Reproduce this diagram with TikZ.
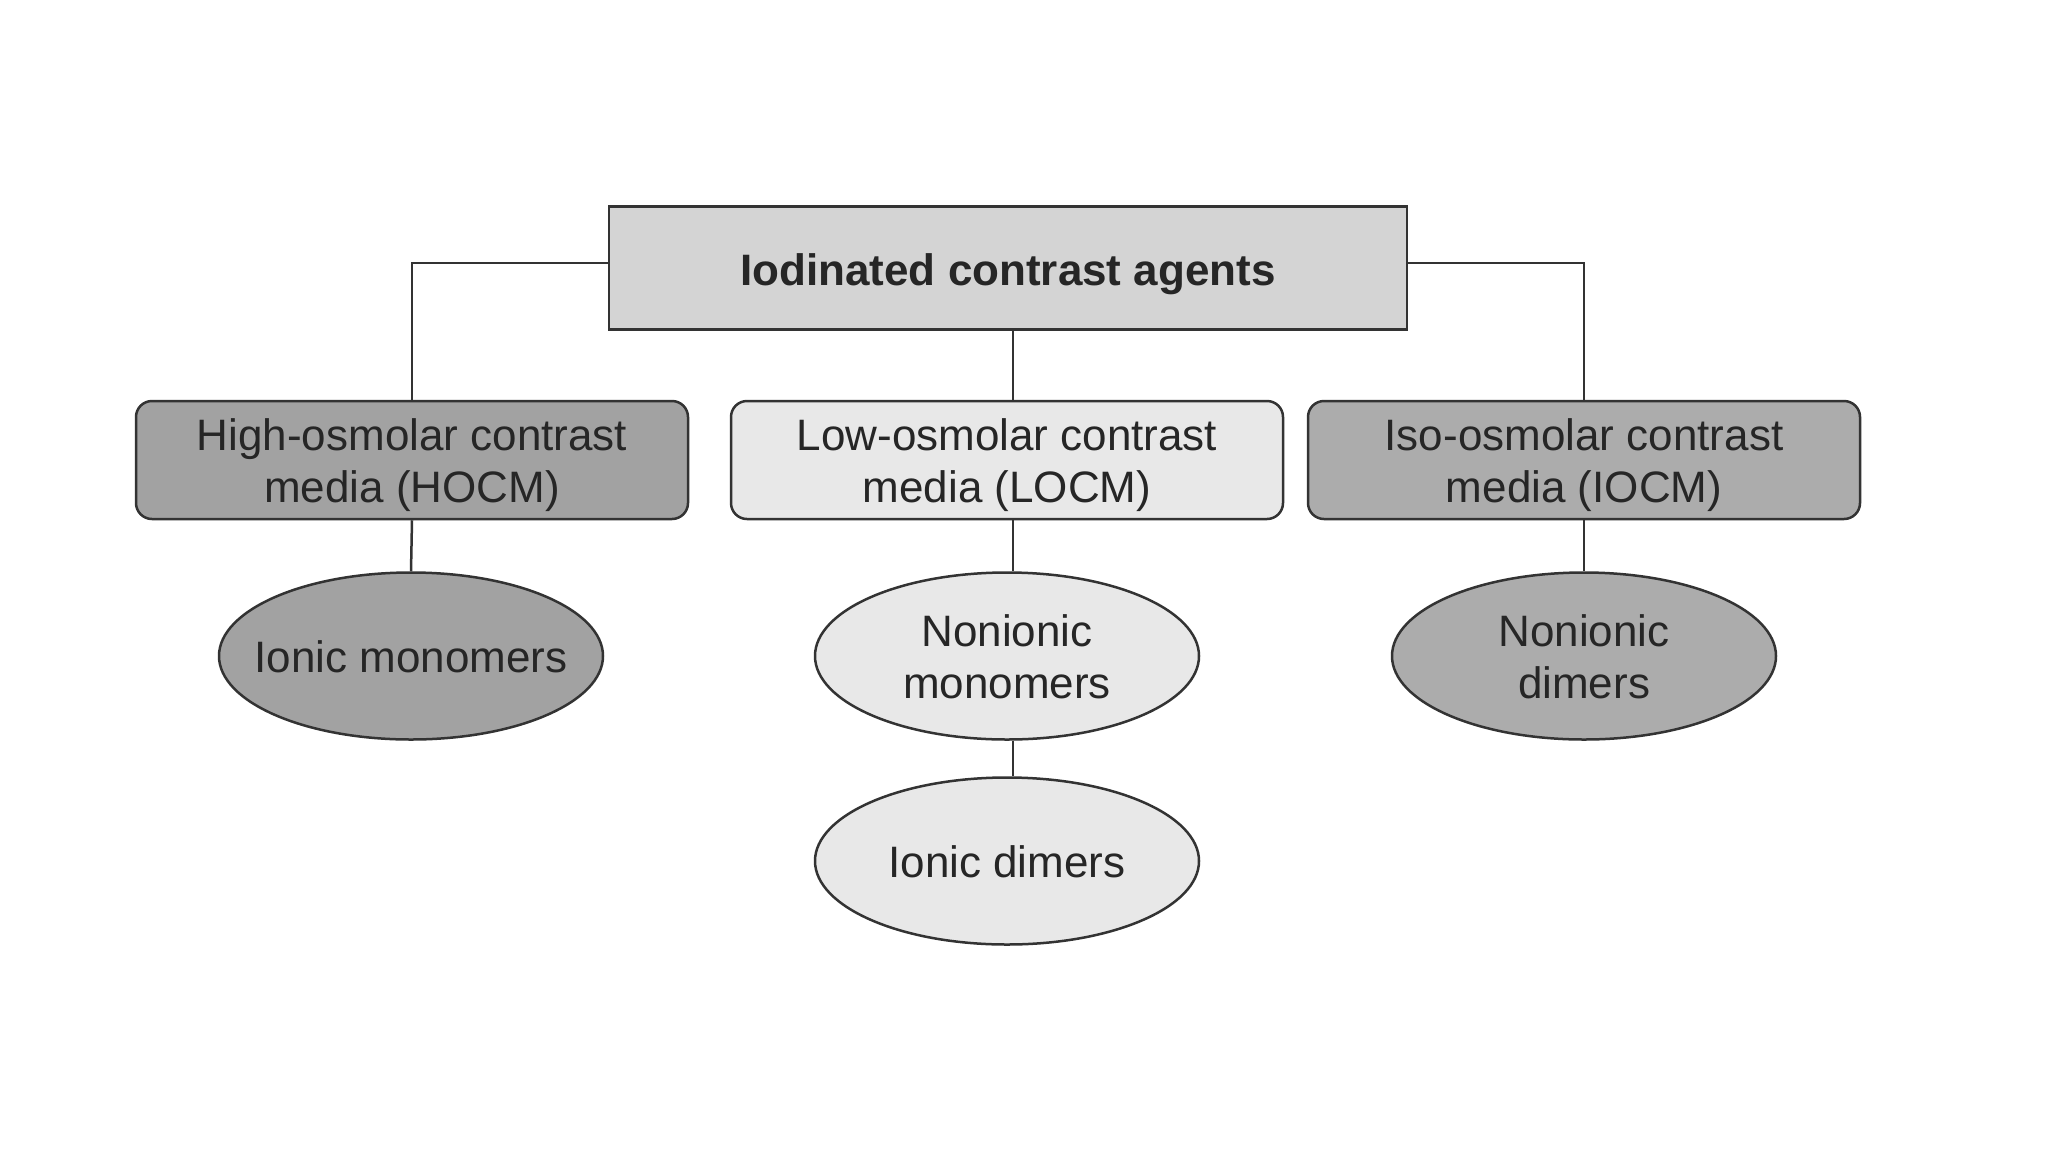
\documentclass[tikz,border=0pt]{standalone}
\usepackage{fontspec}
\setmainfont{Liberation Sans}
\usetikzlibrary{shapes.geometric}
\definecolor{topfill}{HTML}{D4D4D4}
\definecolor{darkfill}{HTML}{A2A2A2}
\definecolor{midfill}{HTML}{ACACAC}
\definecolor{lightfill}{HTML}{E8E8E8}
\definecolor{linecol}{HTML}{333333}
\tikzset{
  every node/.style={font=\fontsize{44}{52}\selectfont, text=black!85, align=center},
  topbox/.style={draw=linecol, line width=2.5pt, fill=topfill, minimum width=798pt, minimum height=123pt, inner sep=0pt},
  catbox/.style={draw=linecol, line width=2.5pt, rounded corners=16pt, minimum width=552pt, minimum height=118pt, inner sep=0pt},
  leaf/.style={draw=linecol, line width=2.5pt, ellipse, minimum width=384pt, minimum height=167pt, inner sep=0pt},
  lbl/.style={inner sep=0pt},
  conn/.style={draw=linecol, line width=2.5pt}
}
\begin{document}
\begin{tikzpicture}[x=1pt,y=-1pt]
\useasboundingbox (0,0) rectangle (2048,1152);
\fill[white] (0,0) rectangle (2048,1152);

\node[topbox] (top) at (1008,268) {};
\node[lbl] (topT) at (1008,274) {\textbf{Iodinated contrast agents}};
\node[catbox, fill=darkfill] (hocm) at (412,460) {};
\node[lbl] (hocmT) at (412,465) {High-osmolar contrast\\media (HOCM)};
\node[catbox, fill=lightfill] (locm) at (1007,460) {};
\node[lbl] (locmT) at (1007,465) {Low-osmolar contrast\\media (LOCM)};
\node[catbox, fill=midfill] (iocm) at (1584,460) {};
\node[lbl] (iocmT) at (1584,465) {Iso-osmolar contrast\\media (IOCM)};

\node[leaf, fill=darkfill] (ionmono) at (411,656) {};
\node[lbl] (ionmonoT) at (411,657) {Ionic monomers};
\node[leaf, fill=lightfill] (nonmono) at (1007,656) {};
\node[lbl] (nonmonoT) at (1007,657) {Nonionic\\monomers};
\node[leaf, fill=lightfill] (iondim) at (1007,861) {};
\node[lbl] (iondimT) at (1007,862) {Ionic dimers};
\node[leaf, fill=midfill] (nondim) at (1584,656) {};
\node[lbl] (nondimT) at (1584,657) {Nonionic\\dimers};

\coordinate (tl) at ([yshift=5pt]top.west);
\coordinate (tr) at ([yshift=5pt]top.east);
\coordinate (tb) at ([xshift=5pt]top.south);
\draw[conn] (tl) -| (hocm.north);
\draw[conn] (tr) -| (iocm.north);
\draw[conn] (tb) -- (tb |- locm.north);
\draw[conn] (hocm.south) -- (ionmono.north);
\draw[conn] (locm.south -| tb) -- (nonmono.north -| tb);
\draw[conn] (nonmono.south -| tb) -- (iondim.north -| tb);
\draw[conn] (iocm.south) -- (nondim.north);
\end{tikzpicture}
\end{document}
